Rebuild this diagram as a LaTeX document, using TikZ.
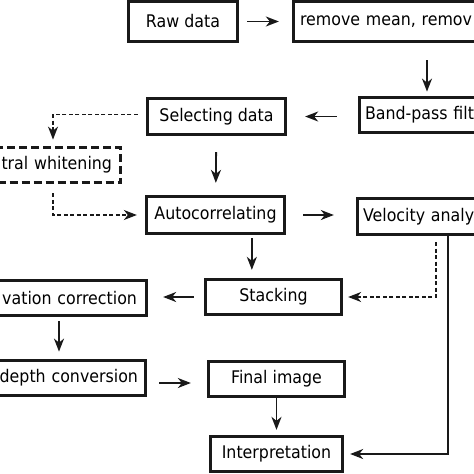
\documentclass[tikz,border=0pt]{standalone}
\usepackage{fontspec}
\setmainfont{DejaVu Sans}[FakeStretch=0.91]
\usetikzlibrary{arrows.meta}

\colorlet{box edge}{black!90}
\colorlet{arrow line}{black!90}
\tikzset{
  box/.style={draw=box edge, line width=3.3pt, inner sep=0pt,
    minimum height=35.5pt, font=\fontsize{17.4}{20}\selectfont},
  open box/.style={box, dash pattern=on 8pt off 4pt},
  cut left/.style={text width=#1, align=right},
  cut right/.style={text width=#1, align=left}
  }
\tikzstyle{arrow} = [draw=arrow line, line width=1.8pt, -{Stealth[length=13pt,width=10pt,inset=4pt]}]
\tikzstyle{dash arrow} = [arrow, line width=1.4pt, dash pattern=on 4pt off 2.5pt]

\begin{document}
\begin{tikzpicture}[x=1pt, y=-1pt]
    \useasboundingbox[fill=white] (0,0) rectangle (474,474);

    % boxes with the text in the middle
    \foreach \pos/\name/\boxw/\boxh/\txt in {{(183,21.5)/raw/109/40/Raw data},
        {(216.5,116.5)/sel/138/36/Selecting data}, {(215.5,215)/auto/138/37/Autocorrelating},
        {(273.5,297)/stack/136/35/Stacking}, {(276.5,379)/final/136/35/Final image},
        {(276.5,454)/interp/132/35/Interpretation}} {
      \node[box, minimum width=\boxw pt, minimum height=\boxh pt] (\name) at \pos {\txt};
    }

    % boxes cut by the edge of the picture
    \node[box, cut right=237pt, inner xsep=6.5pt, minimum height=40pt] (remove) at (418.5,21.5) {remove mean, remov};
    \node[box, cut right=124pt, inner xsep=5.5pt] (band) at (427,115) {Band-pass filt};
    \node[box, cut right=170pt, inner xsep=5.5pt, minimum height=36pt] (vel) at (448,216.5) {Velocity analy};
    \node[open box, cut left=118pt, inner xsep=8.5pt] (white) at (53,165) {tral whitening};
    \node[box, cut left=156pt, inner xsep=9.5pt] (elev) at (59,298) {vation correction};
    \node[box, cut left=158pt, inner xsep=7.5pt] (depth) at (59,378) {depth conversion};

    \coordinate (stk) at ([xshift=48pt]stack.north west);
    \coordinate (vd) at ([xshift=80pt]vel.south west);

    % connectors
    \draw[arrow, shorten <=8pt, shorten >=13pt] (raw) -- (remove);
    \draw[arrow, shorten <=17pt, shorten >=4pt] (band.north |- remove.south) -- (band.north);
    \draw[arrow, shorten <=21pt, shorten >=18pt] (band.west |- sel.east) -- (sel.east);
    \draw[dash arrow, shorten <=8pt, shorten >=6pt] ([yshift=2pt]sel.west) -| (white.north);
    \draw[dash arrow, shorten <=9pt, shorten >=8pt] (white.south) |- (auto.west);
    \draw[arrow, shorten <=16pt, shorten >=12pt] (sel) -- (auto);
    \draw[arrow, shorten <=17pt, shorten >=22pt] (auto.east) -- (auto.east -| vel.west);
    \draw[arrow, shorten <=3pt, shorten >=8pt] (stk |- auto.south) -- (stk);
    \draw[dash arrow, shorten <=6pt, shorten >=5pt] (vd) |- (stack.east);
    \draw[arrow, shorten >=6pt] (vel.south) |- (interp.east);
    \draw[arrow, shorten <=10pt, shorten >=15pt] (stack.west) -- (stack.west -| elev.east);
    \draw[arrow, shorten <=4pt, shorten >=7pt] (elev) -- (depth);
    \draw[arrow, shorten <=12pt, shorten >=16pt] ([yshift=-5pt]depth.east) -- ([yshift=-4pt]final.west);
    \draw[arrow, shorten >=5pt] (final) -- (interp);
\end{tikzpicture}
\end{document}
